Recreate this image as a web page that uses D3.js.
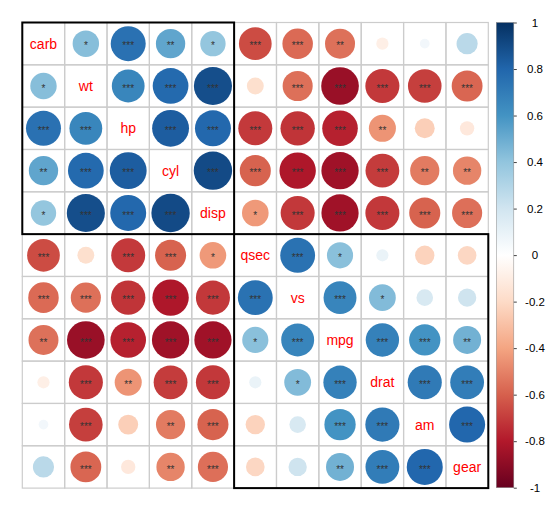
<!DOCTYPE html>
<html><head><meta charset="utf-8">
<script src="https://cdn.jsdelivr.net/npm/d3@7"></script>
<style>body{margin:0;background:#fff;}svg{display:block;font-family:"Liberation Sans",Arial,sans-serif;}</style>
</head><body>
<svg id="chart" width="558" height="507"></svg>
<script>
const variables = ["carb","wt","hp","cyl","disp","qsec","vs","mpg","drat","am","gear"];
// correlation matrix rows in the order of `variables`
const corrRows = [
  [ 1.000, 0.428, 0.750, 0.527, 0.395,-0.656,-0.570,-0.551,-0.091, 0.058, 0.274],
  [ 0.428, 1.000, 0.659, 0.782, 0.888,-0.175,-0.5549,-0.868,-0.712,-0.692,-0.583],
  [ 0.750, 0.659, 1.000, 0.832, 0.791,-0.708,-0.723,-0.776,-0.44876,-0.243,-0.126],
  [ 0.527, 0.782, 0.832, 1.000, 0.902,-0.591,-0.811,-0.852,-0.700,-0.523,-0.493],
  [ 0.395, 0.888, 0.791, 0.902, 1.000,-0.434,-0.710,-0.848,-0.710,-0.591,-0.556],
  [-0.656,-0.175,-0.708,-0.591,-0.434, 1.000, 0.745, 0.419, 0.091,-0.230,-0.213],
  [-0.570,-0.5549,-0.723,-0.811,-0.710, 0.745, 1.000, 0.664, 0.440, 0.168, 0.206],
  [-0.551,-0.868,-0.776,-0.852,-0.848, 0.419, 0.664, 1.000, 0.681, 0.600, 0.480],
  [-0.091,-0.712,-0.44876,-0.700,-0.710, 0.091, 0.440, 0.681, 1.000, 0.713, 0.700],
  [ 0.058,-0.692,-0.243,-0.523,-0.591,-0.230, 0.168, 0.600, 0.713, 1.000, 0.794],
  [ 0.274,-0.583,-0.126,-0.493,-0.556,-0.213, 0.206, 0.480, 0.700, 0.794, 1.000]
];
// significance levels (|r| thresholds for n = 32) and their marks
const sigThresholds = [0.553, 0.4485, 0.349];
const sigMarks = ["***", "**", "*"];
const clusters = [["carb","disp"],["qsec","gear"]];
const legendTicks = [-1,-0.8,-0.6,-0.4,-0.2,0,0.2,0.4,0.6,0.8,1];
const paletteStops = [-1,-0.8,-0.6,-0.4,-0.2,0,0.2,0.4,0.6,0.8,1];
const paletteColors = ["#67001F","#B2182B","#D6604D","#F4A582","#FDDBC7","#FFFFFF","#D1E5F0","#92C5DE","#4393C3","#2166AC","#053061"];

const svg = d3.select("#chart");
const x = d3.scaleBand().domain(variables).range([22.3, 488.3]);
const y = d3.scaleBand().domain(variables).range([22.5, 488.1]);
const color = d3.scaleLinear().domain(paletteStops).range(paletteColors).interpolate(d3.interpolateRgb);
const bw = x.bandwidth(), bh = y.bandwidth();
const rScale = d3.scaleSqrt().domain([0,1]).range([0, bw*0.477]);

const cells = [];
corrRows.forEach((row,i)=>row.forEach((v,j)=>cells.push({r:variables[i], c:variables[j], v})));

// grid
const g = svg.append("g");
g.selectAll("rect.cell").data(cells).join("rect")
  .attr("x", d=>x(d.c)).attr("y", d=>y(d.r)).attr("width", bw).attr("height", bh)
  .attr("fill","none").attr("stroke","#cccccc").attr("stroke-width",1.2);

const off = cells.filter(d=>d.r!==d.c);
g.selectAll("circle").data(off).join("circle")
  .attr("cx", d=>x(d.c)+bw/2).attr("cy", d=>y(d.r)+bh/2)
  .attr("r", d=>rScale(Math.abs(d.v)))
  .attr("fill", d=>color(d.v));

function mark(v){
  const a = Math.abs(v);
  for (let k=0;k<sigThresholds.length;k++) if (a>=sigThresholds[k]) return sigMarks[k];
  return "";
}
g.selectAll("text.sig").data(off).join("text").attr("class","sig")
  .attr("x", d=>x(d.c)+bw/2).attr("y", d=>y(d.r)+bh/2+5.6)
  .attr("text-anchor","middle").attr("font-size",10).attr("fill","#333")
  .text(d=>mark(d.v));

g.selectAll("text.lab").data(variables).join("text").attr("class","lab")
  .attr("x", d=>x(d)+bw/2).attr("y", d=>y(d)+bh/2+5)
  .attr("text-anchor","middle").attr("font-size",14).attr("fill","#FF0000")
  .text(d=>d);

// cluster rectangles
g.selectAll("rect.cl").data(clusters).join("rect")
  .attr("x", d=>x(d[0])).attr("y", d=>y(d[0]))
  .attr("width", d=>x(d[1])+bw-x(d[0])).attr("height", d=>y(d[1])+bh-y(d[0]))
  .attr("fill","none").attr("stroke","#000").attr("stroke-width",2);

// color legend
const ly = d3.scaleLinear().domain([-1,1]).range([487.7, 22.5]);
const defs = svg.append("defs");
const grad = defs.append("linearGradient").attr("id","cb").attr("x1",0).attr("x2",0).attr("y1",1).attr("y2",0);
grad.selectAll("stop").data(paletteStops).join("stop")
  .attr("offset", d=>(d+1)/2).attr("stop-color", d=>color(d));
svg.append("rect").attr("x",496.3).attr("y",ly(1)).attr("width",17.5).attr("height",ly(-1)-ly(1))
  .attr("fill","url(#cb)").attr("stroke","#888").attr("stroke-width",0.5);
const ax = svg.append("g").attr("transform","translate(513.8,0)")
  .call(d3.axisRight(ly).tickValues(legendTicks).tickSize(3).tickFormat(d=>String(d)));
ax.select(".domain").remove();
ax.selectAll(".tick line").attr("stroke","#444");
ax.selectAll(".tick text").attr("x",21.2).attr("text-anchor","middle")
  .attr("font-size",11.5).attr("fill","#000").attr("font-family","Liberation Sans, Arial, sans-serif");
</script>
</body></html>
